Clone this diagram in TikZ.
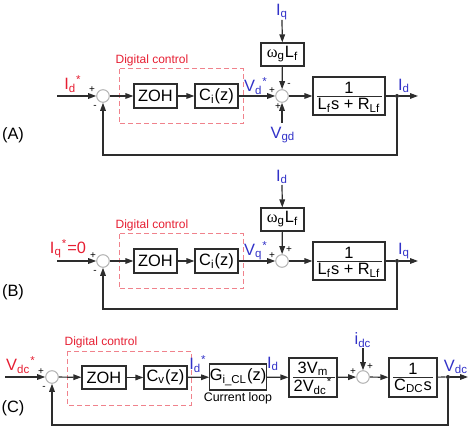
\documentclass[tikz,border=0pt]{standalone}
\usepackage{fontspec}
\setmainfont{Liberation Sans}
\newfontfamily\grk{Liberation Serif}
\usetikzlibrary{arrows.meta}
\definecolor{lblred}{RGB}{230,30,50}
\definecolor{lblblue}{RGB}{50,50,200}
\definecolor{wire}{RGB}{45,45,45}
\definecolor{dashpink}{RGB}{240,130,140}
\tikzset{
	block/.style={draw=wire, line width=0.6pt, rectangle, minimum width=21.5pt, minimum height=12pt, inner sep=0pt},
	sumpt/.style={circle, draw=gray!60, line width=0.5pt, minimum size=6.3pt, inner sep=0pt},
	sig/.style={draw=wire, line width=0.6pt, -{Triangle[length=4pt,width=2.8pt]}},
	wireline/.style={draw=wire, line width=0.6pt},
	dotpt/.style={circle, fill=wire, minimum size=2pt, inner sep=0pt},
	digbox/.style={draw=dashpink, dash pattern=on 2.5pt off 1.5pt, line width=0.5pt},
	diglbl/.style={text=lblred, font=\fontsize{6}{7}\selectfont},
	redlbl/.style={text=lblred, inner sep=0pt},
	bluelbl/.style={text=lblblue, inner sep=0pt},
	sgn/.style={font=\fontsize{5}{5}\selectfont, inner sep=0pt},
	fracbar/.style={draw=wire, line width=0.5pt}
}
\begin{document}
\begin{tikzpicture}[x=0.5pt, y=-0.5pt, font=\fontsize{8.2}{9}\selectfont]
	\useasboundingbox (0,0) rectangle (474,431);

	% (A) d-axis current loop
	\node (labA) at (13,135) {(A)};
	\draw[digbox] (119,69) rectangle (243,124);
	\node[diglbl] (digA) at (152,60) {Digital control};
	\coordinate (inA) at (57,96);
	\node[sumpt] (sumA1) at (103,96) {};
	\node[block] (zohA) at (155.5,96) {ZOH};
	\node[block] (ciA) at (216.5,96) {C\textsubscript{i}(z)};
	\node[sumpt] (sumA2) at (282,96) {};
	\node[block, minimum height=11.5pt] (wA) at (282.5,54.5) {{\grk ω}\textsubscript{g}L\textsubscript{f}};
	\node[block, minimum width=36pt, minimum height=19pt] (plantA) at (349,96) {};
	\node (numA) at (349,88) {1};
	\node (denA) at (349,105) {L\textsubscript{f}s + R\textsubscript{Lf}};
	\draw[fracbar] (317,97) -- (382,97);
	\node[dotpt] (dotA) at (397,96) {};
	\coordinate (outA) at (418,96);
	\coordinate (fbA) at (397,155);
	\coordinate (iqA) at (282,20);
	\coordinate (vgdA) at (282,123);
	\node[redlbl] (refA) at (73,84) {I\textsubscript{d}\textsuperscript{*}};
	\node[bluelbl] (vdA) at (256,86) {V\textsubscript{d}\textsuperscript{*}};
	\node[bluelbl] (idA) at (404,86) {I\textsubscript{d}};
	\node[bluelbl] (iqlA) at (282,12) {I\textsubscript{q}};
	\node[bluelbl] (vgdlA) at (283,135) {V\textsubscript{gd}};
	\node[sgn] at (92,90) {+};
	\node[sgn] at (95,107) {-};
	\node[sgn] at (272,91) {+};
	\node[sgn] at (289,85) {-};
	\node[sgn] at (278,107) {+};
	\draw[sig] (inA) -- (sumA1);
	\draw[sig] (sumA1) -- (zohA);
	\draw[sig] (zohA) -- (ciA);
	\draw[sig] (ciA) -- (sumA2);
	\draw[sig] (sumA2) -- (plantA);
	\draw[wireline] (plantA) -- (dotA);
	\draw[sig] (dotA) -- (outA);
	\draw[sig] (iqA) -- (wA);
	\draw[sig] (wA) -- (sumA2);
	\draw[sig] (vgdA) -- (sumA2);
	\draw[sig] (dotA) -- (fbA) -| (sumA1);

	% (B) q-axis current loop
	\node (labB) at (13,292) {(B)};
	\draw[digbox] (119,234) rectangle (243,289);
	\node[diglbl] (digB) at (152,225) {Digital control};
	\coordinate (inB) at (57,261);
	\node[sumpt] (sumB1) at (103,261) {};
	\node[block] (zohB) at (155.5,261) {ZOH};
	\node[block] (ciB) at (216.5,261) {C\textsubscript{i}(z)};
	\node[sumpt] (sumB2) at (282,261) {};
	\node[block, minimum height=11.5pt] (wB) at (282.5,219.5) {{\grk ω}\textsubscript{g}L\textsubscript{f}};
	\node[block, minimum width=36pt, minimum height=19pt] (plantB) at (349,261) {};
	\node (numB) at (349,253) {1};
	\node (denB) at (349,270) {L\textsubscript{f}s + R\textsubscript{Lf}};
	\draw[fracbar] (317,262) -- (382,262);
	\node[dotpt] (dotB) at (397,261) {};
	\coordinate (outB) at (418,261);
	\coordinate (fbB) at (397,309);
	\coordinate (idB) at (282,185);
	\node[redlbl] (refB) at (68,249) {I\textsubscript{q}\textsuperscript{*}=0};
	\node[bluelbl] (vqB) at (256,251) {V\textsubscript{q}\textsuperscript{*}};
	\node[bluelbl] (iqB) at (404,251) {I\textsubscript{q}};
	\node[bluelbl] (idlB) at (282,177) {I\textsubscript{d}};
	\node[sgn] at (93,256) {+};
	\node[sgn] at (95,272) {-};
	\node[sgn] at (272,256) {+};
	\node[sgn] at (289,250) {+};
	\draw[sig] (inB) -- (sumB1);
	\draw[sig] (sumB1) -- (zohB);
	\draw[sig] (zohB) -- (ciB);
	\draw[sig] (ciB) -- (sumB2);
	\draw[sig] (sumB2) -- (plantB);
	\draw[wireline] (plantB) -- (dotB);
	\draw[sig] (dotB) -- (outB);
	\draw[sig] (idB) -- (wB);
	\draw[sig] (wB) -- (sumB2);
	\draw[sig] (dotB) -- (fbB) -| (sumB1);

	% (C) dc-link voltage loop
	\node (labC) at (13,408) {(C)};
	\draw[digbox] (67,351) rectangle (191,405);
	\node[diglbl] (digC) at (101,342) {Digital control};
	\coordinate (inC) at (5,377);
	\node[sumpt] (sumC1) at (52,377) {};
	\node[block, minimum width=22pt, minimum height=11.5pt] (zohC) at (104,377.5) {ZOH};
	\node[block, minimum height=11.5pt] (cvC) at (165.5,377.5) {C\textsubscript{v}(z)};
	\node[block, minimum width=26pt, minimum height=13pt] (gC) at (238,377) {G\textsubscript{i\_CL}(z)};
	\node[font=\fontsize{6.2}{7}\selectfont] (loopC) at (238,398) {Current loop};
	\node[block, minimum width=24pt, minimum height=19.5pt] (kC) at (313,377.5) {};
	\node (numK) at (313,369) {3V\textsubscript{m}};
	\node (denK) at (313,386) {2V\textsubscript{dc}\textsuperscript{*}};
	\draw[fracbar] (293,377.5) -- (335,377.5);
	\node[sumpt] (sumC2) at (363,377) {};
	\node[block, minimum width=24pt, minimum height=19.5pt] (capC) at (413,377.5) {};
	\node (numC) at (413,369) {1};
	\node (denC) at (413,386) {C\textsubscript{DC}s};
	\draw[fracbar] (393,377.5) -- (433,377.5);
	\node[dotpt] (dotC) at (448,377) {};
	\coordinate (outC) at (468,377);
	\coordinate (fbC) at (448,425);
	\coordinate (idcC) at (363,348);
	\node[redlbl] (refC) at (21,365) {V\textsubscript{dc}\textsuperscript{*}};
	\node[bluelbl] (idsC) at (198,364) {I\textsubscript{d}\textsuperscript{*}};
	\node[bluelbl] (idC) at (273,364) {I\textsubscript{d}};
	\node[bluelbl] (idclC) at (363,340) {i\textsubscript{dc}};
	\node[bluelbl] (vdcC) at (456,367) {V\textsubscript{dc}};
	\node[sgn] at (41,372) {+};
	\node[sgn] at (44,388) {-};
	\node[sgn] at (353,372) {+};
	\node[sgn] at (370,367) {+};
	\draw[sig] (inC) -- (sumC1);
	\draw[sig] (sumC1) -- (zohC);
	\draw[sig] (zohC) -- (cvC);
	\draw[sig] (cvC) -- (gC);
	\draw[sig] (gC) -- (kC);
	\draw[sig] (kC) -- (sumC2);
	\draw[sig] (sumC2) -- (capC);
	\draw[wireline] (capC) -- (dotC);
	\draw[sig] (dotC) -- (outC);
	\draw[sig] (idcC) -- (sumC2);
	\draw[sig] (dotC) -- (fbC) -| (sumC1);
\end{tikzpicture}
\end{document}
